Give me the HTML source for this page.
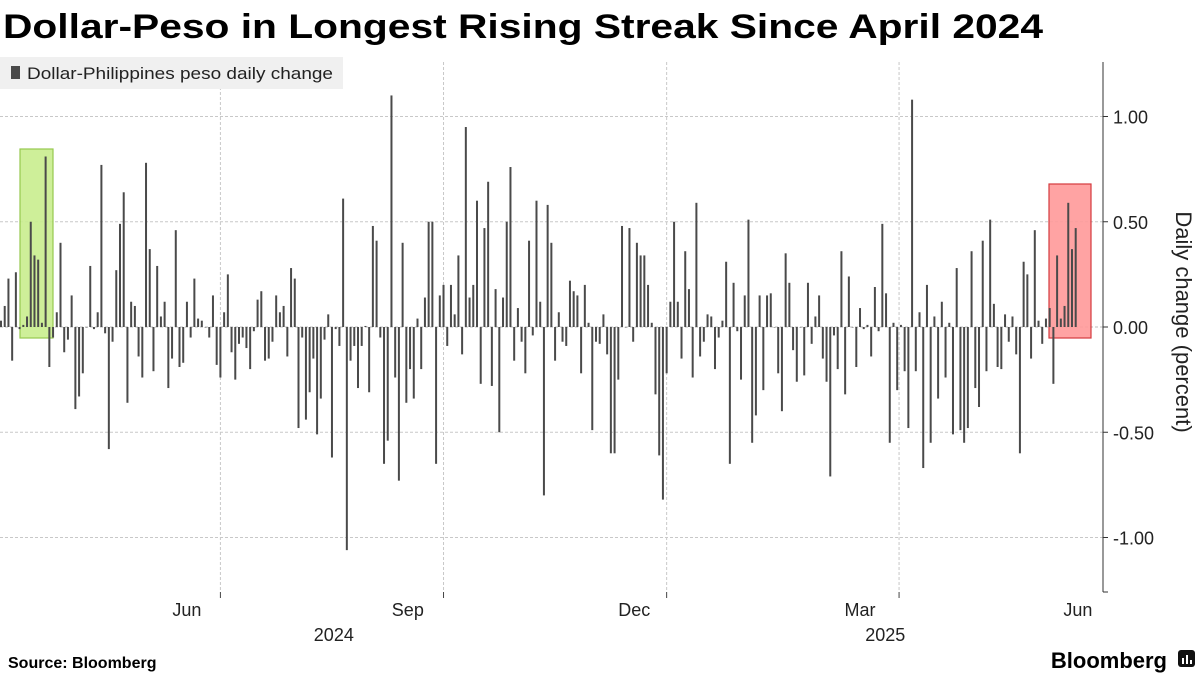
<!DOCTYPE html>
<html><head><meta charset="utf-8"><style>
html,body{margin:0;padding:0;background:#fff;}
svg{display:block;font-family:"Liberation Sans",sans-serif;}
</style></head><body>
<svg id="chart" width="1200" height="675" viewBox="0 0 1200 675" xmlns="http://www.w3.org/2000/svg">
<text x="3" y="38" font-size="34" font-weight="bold" fill="#000" textLength="1040" lengthAdjust="spacingAndGlyphs">Dollar-Peso in Longest Rising Streak Since April 2024</text>
<g id="grid"></g>
<rect x="20" y="149" width="33" height="189" fill="#c9ee8f" stroke="#8cc43c" stroke-width="1.2" opacity="0.9"/>
<rect x="1049" y="184" width="42" height="154" fill="#ff9a9a" stroke="#d0252a" stroke-width="1.2" opacity="0.9"/>
<g id="bars"></g>
<g id="axis"></g>
<g id="xaxis"></g>
<g>
<rect x="0" y="57" width="343" height="32" fill="#f0f0f0"/>
<rect x="11" y="66" width="9" height="13" fill="#4a4a4a"/>
<text x="27" y="79" font-size="17" fill="#222" textLength="306" lengthAdjust="spacingAndGlyphs">Dollar-Philippines peso daily change</text>
</g>
<text transform="translate(1176,322) rotate(90)" text-anchor="middle" font-size="22" fill="#222">Daily change (percent)</text>
<text x="8" y="668" font-size="16" font-weight="bold" fill="#000">Source: Bloomberg</text>
<text x="1167" y="668" text-anchor="end" font-size="22" font-weight="bold" fill="#000">Bloomberg</text>
<g>
<rect x="1178" y="650" width="17" height="17" rx="3" fill="#111"/>
<rect x="1182" y="658" width="2" height="6" fill="#fff"/><rect x="1186" y="655" width="2" height="9" fill="#fff"/><rect x="1190" y="660" width="2" height="4" fill="#fff"/>
</g>
</svg>
<script>
const values = [0.03,0.10,0.23,-0.16,0.26,-0.01,0.01,0.05,0.50,0.34,0.32,0.02,0.81,-0.19,-0.05,0.07,0.40,-0.12,-0.06,0.15,-0.39,-0.33,-0.22,0,0.29,-0.01,0.07,0.77,-0.03,-0.58,-0.07,0.27,0.49,0.64,-0.36,0.12,0.10,-0.14,
-0.24,0.78,0.37,-0.21,0.29,0.05,0.12,-0.29,-0.15,0.46,-0.19,-0.17,0.12,-0.05,0.23,0.04,0.03,0,-0.05,0.15,-0.18,-0.24,0.07,0.25,-0.12,-0.25,-0.08,-0.05,-0.10,-0.20,-0.02,0.13,0.17,-0.16,-0.15,-0.07,
0.15,0.07,0.10,-0.14,0.28,0.23,-0.48,-0.05,-0.44,-0.31,-0.15,-0.51,-0.34,-0.06,0.06,-0.62,-0.01,-0.09,0.61,-1.06,-0.16,-0.09,-0.29,-0.09,0.005,-0.31,0.48,0.41,-0.05,-0.65,-0.54,1.10,-0.24,-0.73,0.40,-0.36,
-0.20,-0.34,0.04,-0.20,0.14,0.50,0.50,-0.65,0.15,0.20,-0.09,0.20,0.06,0.34,-0.13,0.95,0.14,0.20,0.60,-0.27,0.47,0.69,-0.28,0.18,-0.50,0.14,0.50,0.76,-0.16,0.09,-0.07,-0.22,0.41,-0.04,0.60,0.12,-0.80,
0.58,0.40,-0.16,0.07,-0.07,-0.09,0.22,0.17,0.15,-0.22,0.20,0.02,-0.49,-0.07,-0.08,0.06,-0.13,-0.60,-0.60,-0.25,0.48,0,0.47,-0.07,0.40,0.34,0.34,0.20,0.02,-0.32,-0.61,-0.82,-0.22,0.12,0.50,0.12,
-0.15,0.36,0.18,-0.24,0.59,-0.14,-0.07,0.06,0.05,-0.20,-0.05,0.03,0.31,-0.65,0.21,-0.02,-0.25,0.15,0.51,-0.55,-0.42,0.15,-0.30,0.15,0.16,0,-0.22,-0.40,0.35,0.21,-0.11,-0.26,0,-0.23,0.21,-0.08,
0.05,0.15,-0.15,-0.26,-0.71,-0.04,-0.20,0.36,-0.32,0.24,0,-0.19,0.09,-0.01,0.01,-0.14,0.19,-0.02,0.49,0.16,-0.55,0.02,-0.30,0.01,-0.21,-0.48,1.08,-0.21,0.07,-0.67,0.20,-0.55,0.05,-0.34,0.12,-0.24,0.02,
-0.51,0.28,-0.49,-0.55,-0.48,0.36,-0.29,-0.38,0.41,-0.21,0.51,0.11,-0.19,-0.20,0.06,-0.07,0.05,-0.13,-0.60,0.31,0.25,-0.15,0.46,0.03,-0.08,0.04,0.09,-0.27,0.34,0.04,0.10,0.59,0.37,0.47];
const yTicks = [1.0,0.5,0,-0.5,-1.0];
const yTickLabels = ["1.00","0.50","0.00","-0.50","-1.00"];
const monthLabels = ["Jun","Sep","Dec","Mar","Jun"];
const monthIdx = [50,109.4,170.3,231,289.6];
const quarterIdx = [59,119,179,241.5];
const yearLabels = ["2024","2025"];
const yearIdx = [89.5,237.8];

const NS="http://www.w3.org/2000/svg";
function y(v){return 327 - v*210.5;}
const x0=1, x1=1075.7;
function x(i){return x0 + i*(x1-x0)/(values.length-1);}
function mk(tag,attrs,parent){const e=document.createElementNS(NS,tag);for(const k in attrs)e.setAttribute(k,attrs[k]);parent.appendChild(e);return e;}
const grid=document.getElementById('grid'),bars=document.getElementById('bars'),axis=document.getElementById('axis'),xaxis=document.getElementById('xaxis');
yTicks.forEach((t,k)=>{
  if(t!==0){const g=mk('line',{x1:0,x2:1103,y1:y(t),y2:y(t),stroke:'#c8c8c8','stroke-dasharray':'3,2','stroke-width':1},grid);
  
  }
  const tk=mk('line',{x1:1103,x2:1108,y1:y(t),y2:y(t),stroke:'#333'},axis);
  
  
  const tl=mk('text',{x:1113,y:y(t)+7,'font-size':18,fill:'#222'},axis);
  
  
  tl.textContent=yTickLabels[k];
});
const zl=mk('line',{x1:0,x2:1103,y1:y(0),y2:y(0),stroke:'#bbb','stroke-dasharray':'3,2'},grid);


quarterIdx.forEach(q=>{
  const g=mk('line',{x1:x(q),x2:x(q),y1:62,y2:592,stroke:'#c8c8c8','stroke-dasharray':'3,2'},grid);
  
  
  const t=mk('line',{x1:x(q),x2:x(q),y1:592,y2:598,stroke:'#444'},xaxis);
  
  
});
const al=mk('line',{x1:1103,x2:1103,y1:62,y2:592,stroke:'#333'},axis);


const al2=mk('line',{x1:1103,x2:1108,y1:592,y2:592,stroke:'#333'},axis);


values.forEach((v,i)=>{
  const r=mk('rect',{x:x(i)-1,y:Math.min(y(v),y(0)),width:2,height:Math.max(0.5,Math.abs(y(v)-y(0))),fill:'#4a4a4a'},bars);
  
  
});
monthLabels.forEach((m,k)=>{
  const t=mk('text',{x:x(monthIdx[k]),y:616,'text-anchor':'middle','font-size':18,fill:'#222'},xaxis);
  
  
  t.textContent=m;
});
yearLabels.forEach((m,k)=>{
  const t=mk('text',{x:x(yearIdx[k]),y:641,'text-anchor':'middle','font-size':18,fill:'#222'},xaxis);
  
  
  t.textContent=m;
});
</script>
</body></html>
